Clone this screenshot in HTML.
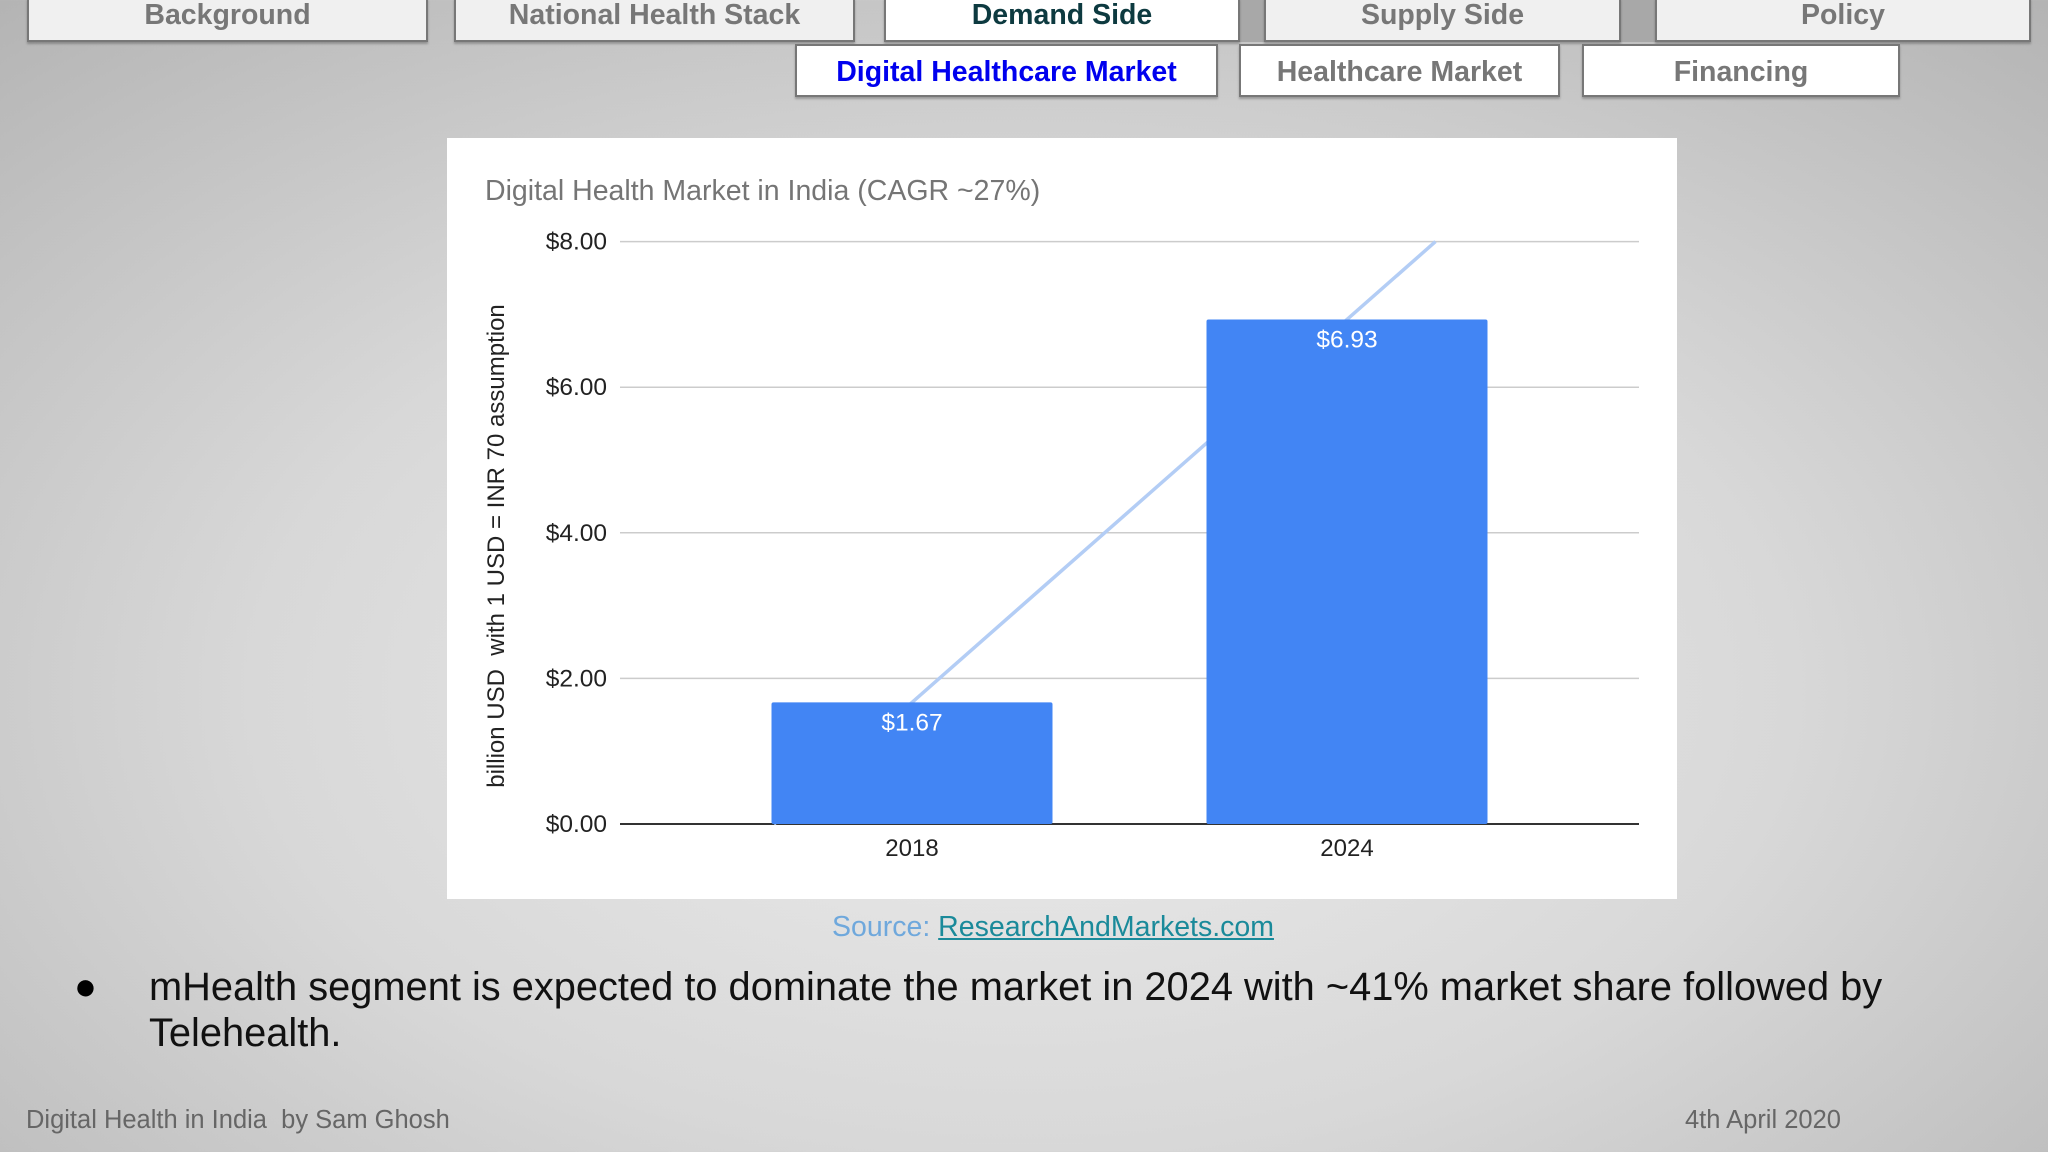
<!DOCTYPE html>
<html><head><meta charset="utf-8"><style>
body{margin:0;width:2048px;height:1152px;overflow:hidden;font-family:"Liberation Sans",sans-serif;
background:radial-gradient(ellipse 75% 80% at 50% 60%,#ececec 0%,#d8d8d8 50%,#b4b4b4 100%);position:relative}
.tab{position:absolute;box-sizing:border-box;border:2px solid #777;border-top:none;background:#f0f0f0;color:#777;font-weight:bold;font-size:28.5px;text-align:center;box-shadow:0 2px 2px rgba(0,0,0,.25)}
.r1{top:-2px;height:44px;line-height:34px}
.r2{top:44px;height:53px;line-height:53px;background:#fff;border-top:2px solid #777}
.gap{position:absolute;top:0;height:42px;background:#a8a8a8}
.t{position:absolute;white-space:pre}
</style></head><body>
<div class="gap" style="left:1239px;width:26px"></div>
<div class="gap" style="left:1620px;width:36px"></div>
<div class="tab r1" style="left:27px;width:401px">Background</div>
<div class="tab r1" style="left:454px;width:401px">National Health Stack</div>
<div class="tab r1" style="left:884px;width:356px;background:#fff;color:#0d3a40">Demand Side</div>
<div class="tab r1" style="left:1264px;width:357px">Supply Side</div>
<div class="tab r1" style="left:1655px;width:376px">Policy</div>
<div class="tab r2" style="left:795px;width:423px;color:#0000ee">Digital Healthcare Market</div>
<div class="tab r2" style="left:1239px;width:321px">Healthcare Market</div>
<div class="tab r2" style="left:1582px;width:318px">Financing</div>

<svg style="position:absolute;left:0;top:0" width="2048" height="1152" id="chart">
<rect x="447" y="138" width="1230" height="761" fill="#fff"/>
<text x="485" y="200" font-size="28.5" fill="#757575" font-family="Liberation Sans">Digital Health Market in India (CAGR ~27%)</text>
<text transform="translate(504,546) rotate(-90)" text-anchor="middle" font-size="24" fill="#222" font-family="Liberation Sans" xml:space="preserve">billion USD  with 1 USD = INR 70 assumption</text>
<g id="grid"></g><g id="trend"></g><g id="bars"></g>
</svg>

<div class="t" style="left:0;width:2106px;text-align:center;top:911px;font-size:28.5px;color:#6fa8dc">Source: <span style="color:#1a8a9a;text-decoration:underline">ResearchAndMarkets.com</span></div>
<div class="t" style="left:74px;top:966px;font-size:38px">●</div>
<div class="t" style="left:149px;top:964px;font-size:39.8px;line-height:46px;color:#111">mHealth segment is expected to dominate the market in 2024 with ~41% market share followed by
Telehealth.</div>
<div class="t" style="left:26px;top:1106px;font-size:25.5px;color:#666">Digital Health in India  by Sam Ghosh</div>
<div class="t" style="left:1685px;top:1106px;font-size:25.5px;color:#666">4th April 2020</div>

<script>
const categories=["2018","2024"];
const values=[1.67,6.93];
const valueLabels=["$1.67","$6.93"];
const yTicks=[0,2,4,6,8];
const yTickLabels=["$0.00","$2.00","$4.00","$6.00","$8.00"];
const NS="http://www.w3.org/2000/svg";
const X0=620,X1=1639,Y0=824,Y1=241.6,YMAX=8;
const y=v=>Y0-(v/YMAX)*(Y0-Y1);
const STEP=435;
const xc=i=>(X0+X1)/2+(i-(categories.length-1)/2)*STEP;
const BW=281;
function mk(tag,attrs,parent){const e=document.createElementNS(NS,tag);for(const k in attrs)e.setAttribute(k,attrs[k]);document.getElementById(parent).appendChild(e);return e;}
yTicks.forEach((t,i)=>{
 const l=mk('line',{x1:X0,x2:X1,y1:y(t),y2:y(t),stroke:t===0?'#333':'#ccc','stroke-width':t===0?2:1.5},'grid');
 
 
 const tx=mk('text',{x:607,y:y(t)+8,'text-anchor':'end','font-size':24.5,fill:'#222','font-family':'Liberation Sans'},'grid');
 tx.textContent=yTickLabels[i];
 
 
});
const slope=(values[1]-values[0])/(xc(1)-xc(0));
const xAt=v=>xc(0)+(v-values[0])/slope;
const tl=mk('line',{x1:Math.max(X0,xAt(0)),y1:y(Math.max(0,values[0]+(X0-xc(0))*slope)),x2:xAt(YMAX),y2:y(YMAX),stroke:'#b3cdf5','stroke-width':3.5},'trend');
if(xAt(0)>=X0){tl.setAttribute('y1',y(0));}


categories.forEach((c,i)=>{
 const r=mk('rect',{x:xc(i)-BW/2,y:y(values[i]),width:BW,height:Y0-y(values[i]),fill:'#4285f4',rx:2},'bars');
 
 
 const v=mk('text',{x:xc(i),y:y(values[i])+28,'text-anchor':'middle','font-size':24.5,fill:'#fff','font-family':'Liberation Sans'},'bars');
 v.textContent=valueLabels[i];
 
 
 const xl=mk('text',{x:xc(i),y:856,'text-anchor':'middle','font-size':24,fill:'#222','font-family':'Liberation Sans'},'bars');
 xl.textContent=c;
 
 
});
</script>
</body></html>
